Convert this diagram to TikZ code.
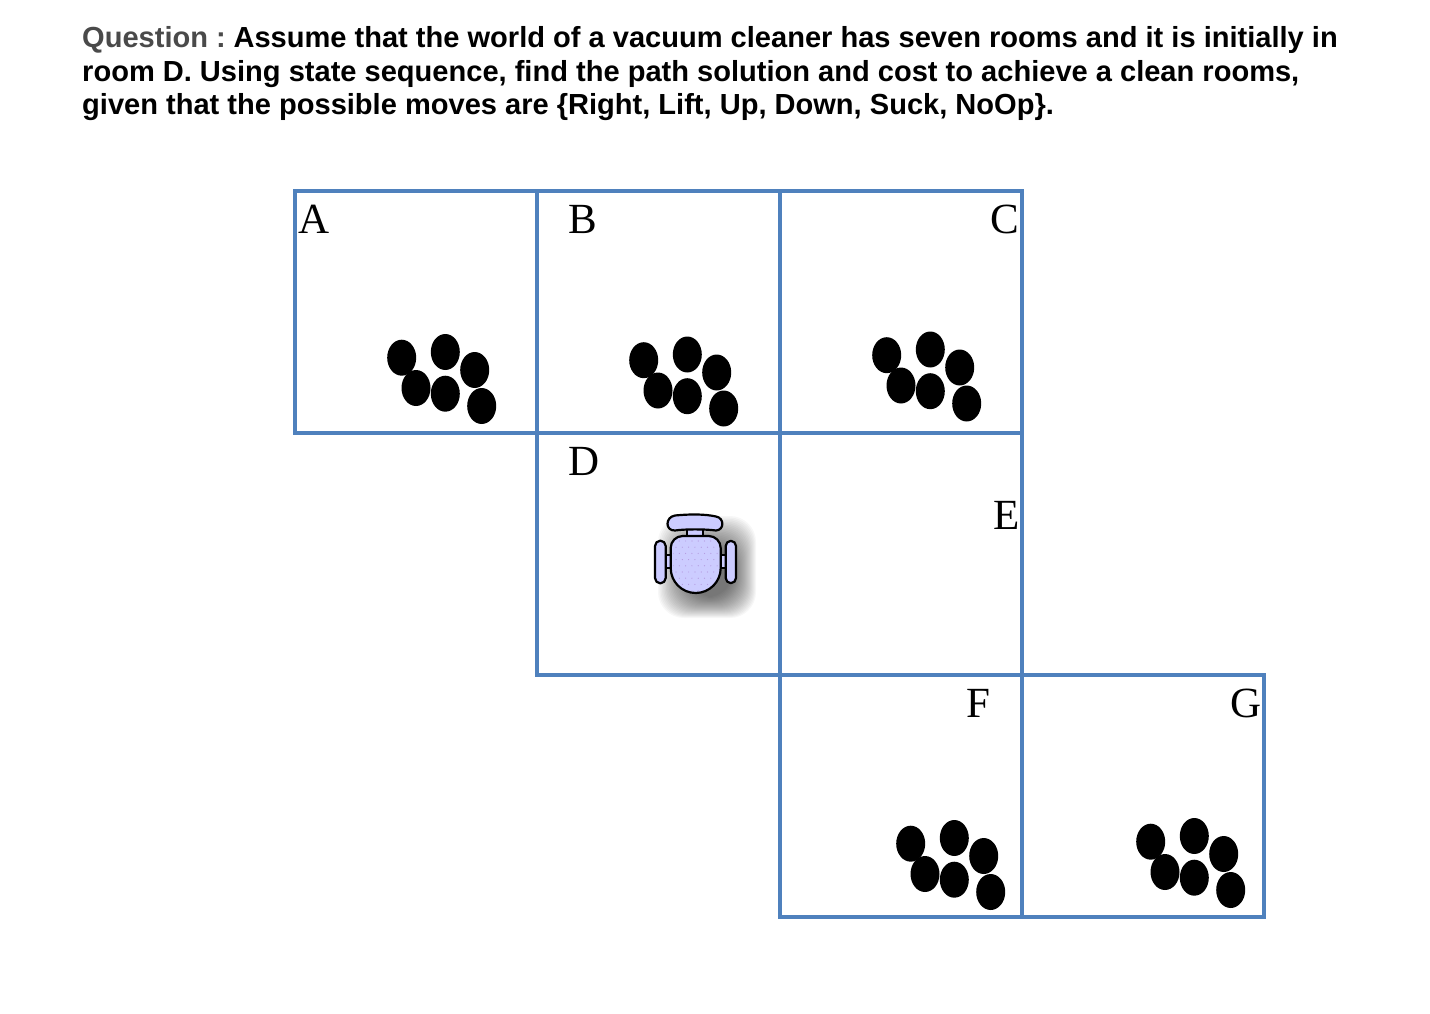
\documentclass[tikz,border=0pt]{standalone}
\usepackage{fontspec}
\setmainfont{Liberation Sans}
\newfontfamily\roomfont{Liberation Serif}
\definecolor{wall}{HTML}{4F81BD}
\definecolor{robotfill}{HTML}{CCCCFF}
\definecolor{speckle}{HTML}{B49AE0}
\definecolor{qgray}{HTML}{4A4A4A}
\tikzset{
  room/.style={draw=wall,line width=4.5pt,line join=miter},
  roomlabel/.style={inner sep=0pt,anchor=base west,font=\roomfont\fontsize{43}{43}\selectfont,text=black},
  textline/.style={inner sep=0pt,anchor=base west,font=\bfseries\fontsize{29.05}{30}\selectfont,text=black},
  speck/.style={fill=black,draw=none},
  robotpart/.style={draw=black,line width=2.2pt,fill=robotfill,line join=round},
}
\newcommand{\dust}[2]{%
  \begin{scope}[shift={(#1,#2)}]
    \foreach \cx/\cy in {401.7/357.7,445.3/352,474.7/370,416/388,445.3/393.7,481.7/406}
      \fill[speck] (\cx,\cy) ellipse [x radius=14.5,y radius=18];
  \end{scope}}
\begin{document}
\begin{tikzpicture}[x=1pt,y=-1pt]
\useasboundingbox (0,0) rectangle (1430,1014);
% question
\node[textline] (q1) at (82,48) {{\color{qgray}Question :}\kern-3pt{} Assume that the world of a vacuum cleaner has seven rooms and it is initially in};
\node[textline] (q2) at (82,82) {room D. Using state sequence, find the path solution and cost to achieve a clean rooms,};
\node[textline] (q3) at (82,115) {given that the possible moves are \{Right, Lift, Up, Down, Suck, NoOp\}.};
% rooms
\draw[room] (295,191) rectangle (537,433);
\draw[room] (537,191) rectangle (780,433);
\draw[room] (780,191) rectangle (1022,433);
\draw[room] (537,433) rectangle (780,675);
\draw[room] (780,433) rectangle (1022,675);
\draw[room] (780,675) rectangle (1022,917);
\draw[room] (1022,675) rectangle (1264,917);
% labels
\node[roomlabel] (A) at (298,233) {A};
\node[roomlabel] (B) at (568.5,233) {B};
\node[roomlabel] (C) at (990.5,233) {C};
\node[roomlabel] (D) at (568.5,475) {D};
\node[roomlabel] (E) at (993,529) {E};
\node[roomlabel] (F) at (966,717) {F};
\node[roomlabel] (G) at (1230,717) {G};
% dirt
\dust{0}{0}
\dust{242}{2.5}
\dust{485}{-2.5}
\dust{509}{486}
\dust{749}{484}
% robot shadow
\foreach \i in {0,...,23}
  \fill[black,opacity=0.032,rounded corners=26pt]
    (658+\i*1.3,516+\i*1.4) rectangle (756-\i*1.0,618-\i*0.9);
% robot
\draw[robotpart] (664,555) rectangle (672,568.3);
\draw[robotpart] (719,555) rectangle (727,568.3);
\draw[robotpart] (655,546) -- (655,578) arc[start angle=180,end angle=0,radius=5.35] -- (665.7,546) arc[start angle=0,end angle=-180,radius=5.35] -- cycle;
\draw[robotpart] (725.7,546) -- (725.7,578) arc[start angle=180,end angle=0,radius=5.15] -- (736,546) arc[start angle=0,end angle=-180,radius=5.15] -- cycle;
\draw[robotpart] (687,529) rectangle (703,538);
\draw[robotpart] (675,515.5) .. controls (690,514) and (705,514) .. (716,516.5) .. controls (724.5,518) and (724.5,530) .. (716,530.5) .. controls (705,529) and (685,529) .. (675,530.5) .. controls (665,531) and (665,517) .. (675,515.5) -- cycle;
\draw[robotpart] (670.7,568) -- (670.7,548) arc[start angle=180,end angle=270,radius=12] -- (708.7,536) arc[start angle=270,end angle=360,radius=12] -- (720.7,568) arc[start angle=0,end angle=180,radius=25] -- cycle;
\begin{scope}
  \clip (673,568) -- (673,548) arc[start angle=180,end angle=270,radius=10] -- (708.7,538) arc[start angle=270,end angle=360,radius=10] -- (718.7,568) arc[start angle=0,end angle=180,radius=22.85] -- cycle;
  \foreach \row in {0,...,8}
    \foreach \col in {0,...,8}
      \fill[speckle] ({673+\col*6.3+mod(\row,2)*3},{541+\row*6.2}) circle [radius=0.6];
\end{scope}
\end{tikzpicture}
\end{document}
